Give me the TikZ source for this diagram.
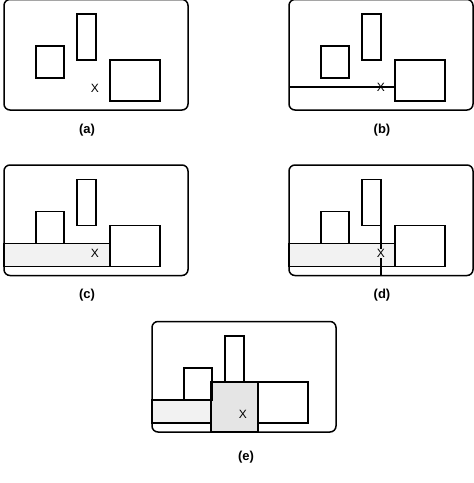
\documentclass[tikz,border=0pt]{standalone}
\usepackage{fontspec}
\setmainfont{Liberation Sans}

\begin{document}
\begin{tikzpicture}[x=1pt, y=-1pt,
    frame/.style={line width=1.5pt, rounded corners=6pt},
    blk/.style={line width=1.2pt},
    xlab/.style={font=\fontsize{12}{12}\selectfont, inner sep=0pt},
    caplab/.style={font=\fontsize{13}{13}\selectfont\bfseries, inner sep=0pt},
    blocks/.pic={
      \draw[blk] (36,46) rectangle (64,78);
      \draw[blk] (77,14) rectangle (96,60);
      \draw[blk] (110,60) rectangle (160,101);
    }]
    \useasboundingbox (0,0) rectangle (474,483);

    % (a)
    \begin{scope}[shift={(0,0)}]
      \draw[frame] (4,-0.5) rectangle (188,110);
      \pic {blocks};
      \node[xlab] (xa) at (95,88) {X};
    \end{scope}
    \node[caplab] (capa) at (87,130) {(a)};

    % (b)
    \begin{scope}[shift={(285,0)}]
      \draw[frame] (4,-0.5) rectangle (188,110);
      \pic {blocks};
      \draw[blk] (4,87) -- (110,87);
      \node[xlab] (xb) at (96,87) {X};
    \end{scope}
    \node[caplab] (capb) at (382,130) {(b)};

    % (c)
    \begin{scope}[shift={(0,165.5)}]
      \draw[blk, fill=black!5] (4,78) rectangle (110,101);
      \draw[frame] (4,-0.5) rectangle (188,110);
      \pic {blocks};
      \node[xlab] (xc) at (95,88) {X};
    \end{scope}
    \node[caplab] (capc) at (87,295) {(c)};

    % (d)
    \begin{scope}[shift={(285,165.5)}]
      \draw[blk, fill=black!5] (4,78) rectangle (110,101);
      \draw[frame] (4,-0.5) rectangle (188,110);
      \pic {blocks};
      \draw[blk] (96,60) -- (96,110);
      \node[xlab, fill=black!5, inner sep=0.5pt] (xd) at (96,88) {X};
    \end{scope}
    \node[caplab] (capd) at (382,295) {(d)};

    % (e)
    \begin{scope}[shift={(148,322)}]
      \draw[blk, fill=black!5] (4,78) rectangle (63,101);
      \draw[blk, fill=black!10] (63,60) rectangle (110,110);
      \draw[frame] (4,-0.5) rectangle (188,110);
      \pic {blocks};
      \node[xlab] (xe) at (95,92) {X};
    \end{scope}
    \node[caplab] (cape) at (246,457) {(e)};
\end{tikzpicture}
\end{document}
